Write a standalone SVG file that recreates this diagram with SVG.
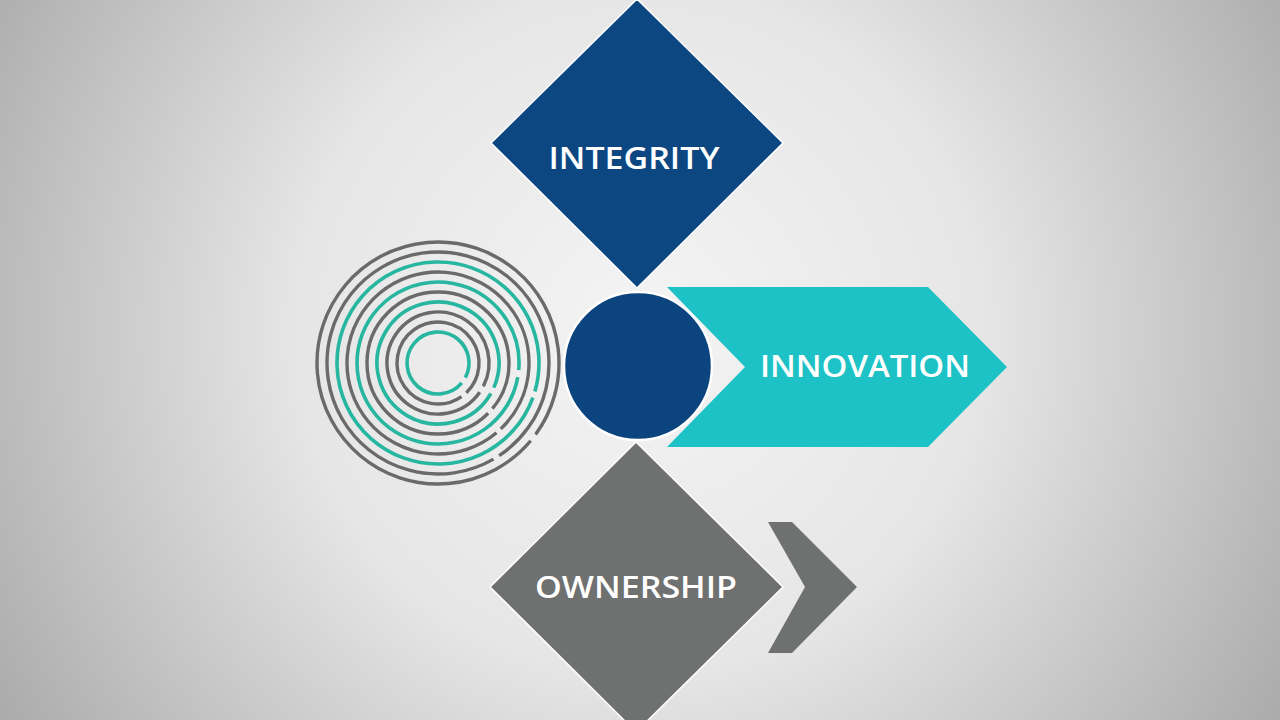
<svg xmlns="http://www.w3.org/2000/svg" width="1280" height="720" viewBox="0 0 1280 720">
<defs>
<radialGradient id="bg" cx="640" cy="330" r="760" gradientUnits="userSpaceOnUse">
<stop offset="0" stop-color="#f4f4f4"/>
<stop offset="0.45" stop-color="#e6e6e6"/>
<stop offset="1" stop-color="#a9a9a9"/>
</radialGradient>
<style>
.lbl{font-family:"Open Sans","Liberation Sans",sans-serif;font-weight:600;fill:#ffffff;text-anchor:middle;dominant-baseline:central}
.g{fill:none;stroke:#6a6a6a;stroke-width:3.4}
.t{fill:none;stroke:#27b6a0;stroke-width:3.6}
</style>
</defs>
<rect width="1280" height="720" fill="url(#bg)"/>

<g id="rings">
<circle class="g" cx="438" cy="363" r="121" stroke-dasharray="752 8" transform="rotate(40 438 363)"/>
<circle class="g" cx="438" cy="363" r="111" stroke-dasharray="690 7" transform="rotate(60 438 363)"/>
<circle class="t" cx="438" cy="363" r="101" stroke-dasharray="627 8" transform="rotate(20 438 363)"/>
<circle class="g" cx="438" cy="363" r="91" stroke-dasharray="565 7" transform="rotate(50 438 363)"/>
<circle class="t" cx="438" cy="363" r="81" stroke-dasharray="501 8" transform="rotate(10 438 363)"/>
<circle class="g" cx="438" cy="363" r="71" stroke-dasharray="439 7" transform="rotate(45 438 363)"/>
<circle class="t" cx="438" cy="363" r="61" stroke-dasharray="376 7" transform="rotate(30 438 363)"/>
<circle class="g" cx="438" cy="363" r="51" stroke-dasharray="313 7" transform="rotate(35 438 363)"/>
<circle class="g" cx="438" cy="363" r="41" stroke-dasharray="251 7" transform="rotate(55 438 363)"/>
<circle class="t" cx="438" cy="363" r="31" stroke-dasharray="188 7" transform="rotate(40 438 363)"/>
</g>

<g id="innovation">
<polygon points="667,287 928,287 1007,367 928,447 667,447 745,367" fill="#1cc2c5"/>
<text class="lbl" x="865" y="365" font-size="31" textLength="210" lengthAdjust="spacingAndGlyphs">INNOVATION</text>
</g>

<g id="integrity">
<polygon points="637,-1 783,143 637,288 491,143" fill="#0d4782" stroke="#ffffff" stroke-width="1.5"/>
<text class="lbl" x="634" y="157" font-size="30" textLength="171" lengthAdjust="spacingAndGlyphs">INTEGRITY</text>
</g>

<g id="ownership">
<polygon points="636,442 783,587 636,732 490,587" fill="#6f7171" stroke="#ffffff" stroke-width="1.5"/>
<text class="lbl" x="636" y="586" font-size="30" textLength="202" lengthAdjust="spacingAndGlyphs">OWNERSHIP</text>
</g>

<g id="hub">
<circle cx="638" cy="366" r="74" fill="#0c447f" stroke="#ffffff" stroke-width="2.5"/>
</g>

<g id="chevron">
<polygon points="768,522 792,522 857,587 792,653 768,653 805,587" fill="#6f7171"/>
</g>

<g id="connectors"></g>
</svg>
